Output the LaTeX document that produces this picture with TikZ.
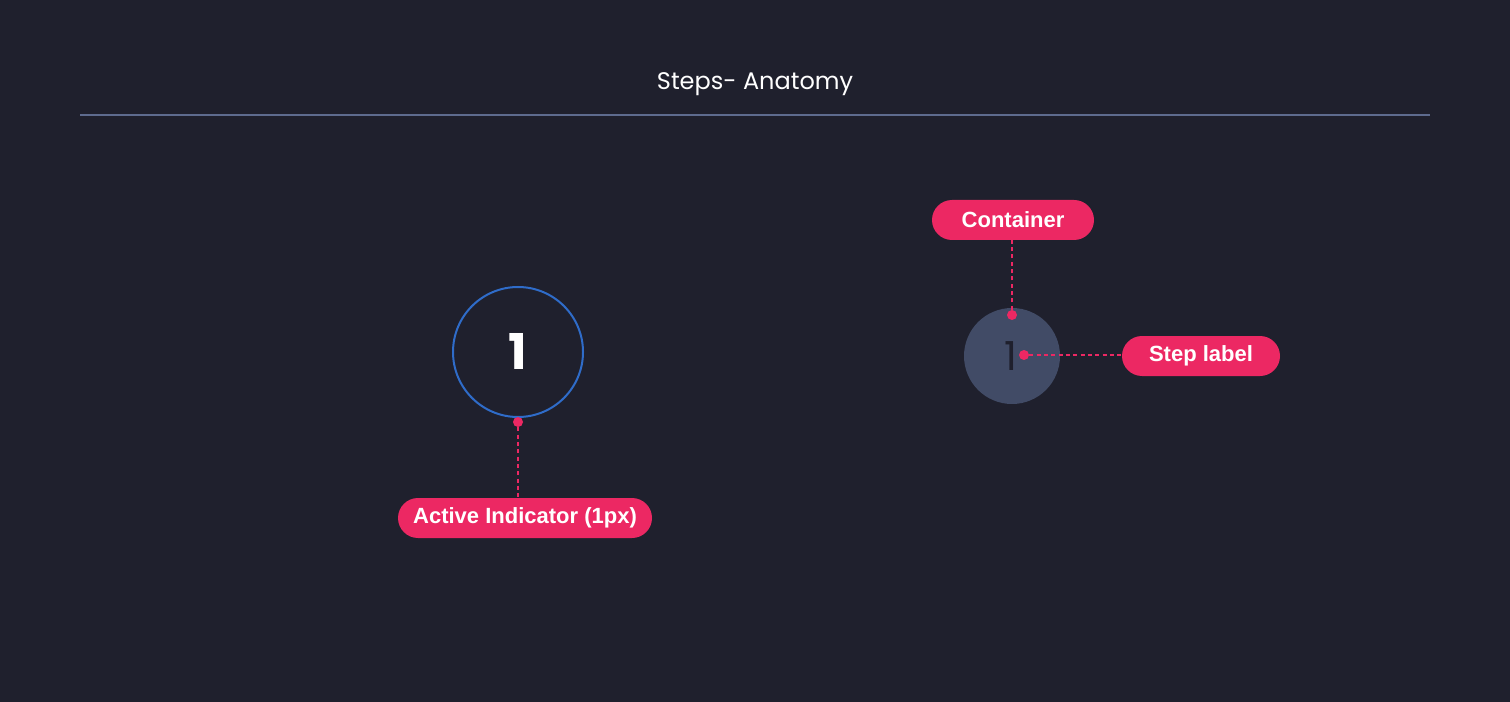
\documentclass[tikz,border=0pt]{standalone}
\usepackage{fontspec}
\usepackage{tikz}
\usetikzlibrary{positioning}
\setmainfont{Liberation Sans}
\newfontfamily\titlefont{Poppins}
\definecolor{bgcolor}{HTML}{1F202D}
\definecolor{rulecolor}{HTML}{5E6B8E}
\definecolor{ringcolor}{HTML}{2F6CC9}
\definecolor{pinkcolor}{HTML}{EC2863}
\definecolor{boxcolor}{HTML}{414B66}
\tikzset{
  pill/.style={fill=pinkcolor, text=white, rounded corners=15pt, minimum height=30pt,
    inner xsep=0pt, font=\fontsize{16.5}{19}\selectfont\bfseries},
  pin/.style={circle, fill=pinkcolor, inner sep=0pt, minimum size=7.5pt},
  lead/.style={draw=pinkcolor, line width=1.1pt, dash pattern=on 3pt off 2.5pt}
}

\begin{document}
\begin{tikzpicture}[x=0.75pt, y=-0.75pt]
\fill[bgcolor] (0,0) rectangle (1510,702);
\useasboundingbox (0,0) rectangle (1510,702);
% title
\node[text=white, font=\titlefont\fontsize{18}{22}\selectfont] (title) at (755,84) {Steps- Anatomy};
\draw[rulecolor, line width=1.3pt] (80,115) -- (1430,115);
% active step
\node[circle, draw=ringcolor, line width=1.5pt, minimum size=97.5pt] (ring) at (518,352) {};
\node[text=white, font=\titlefont\fontsize{37}{40}\selectfont\bfseries] (num) at (518,351) {1};
\node[pin] (pinA) at (518,422) {};
\node[pill, minimum width=190.5pt] (active) at (525,518) {Active Indicator (1px)};
\draw[lead] (pinA) -- (pinA |- active.north);
% step container
\node[circle, fill=boxcolor, minimum size=72pt] (box) at (1012,356) {};
\node[text=bgcolor, font=\titlefont\fontsize{30}{34}\selectfont] (numB) at (1011,356) {1};
\node[pin] (pinB) at (1012,315) {};
\node[pin] (pinC) at (1024,355) {};
\node[pill, minimum width=121.5pt] (container) at (1013,220) {Container};
\node[pill, minimum width=118.5pt] (steplabel) at (1201,356) {Step label};
\draw[lead] (pinB) -- (pinB |- container.south);
\draw[lead] (pinC) -- (steplabel.west |- pinC);
\end{tikzpicture}
\end{document}
